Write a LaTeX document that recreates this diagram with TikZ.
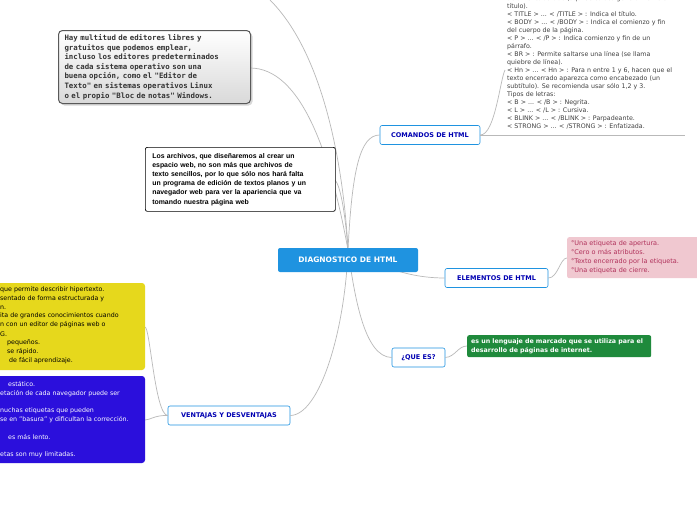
\documentclass[tikz,border=0pt]{standalone}
\usepackage{fontspec}
\usetikzlibrary{shadows}
\setmainfont{DejaVu Sans}
\newfontfamily\monof{DejaVu Sans Mono}
\newfontfamily\arialf{Liberation Sans}
\definecolor{ctrblue}{HTML}{1F93E0}
\definecolor{ylw}{HTML}{E6D81C}
\definecolor{blu}{HTML}{2B0FDC}
\definecolor{grn}{HTML}{1F8A3C}
\definecolor{pnk}{HTML}{F0C8D0}
\definecolor{pnktext}{HTML}{B0305A}
\begin{document}
\begin{tikzpicture}[x=1pt,y=-1pt,
 conn/.style={draw=gray!55,line width=0.7pt},
 tbox/.style={draw=ctrblue,fill=white,rounded corners=2pt,line width=0.6pt,text=blue!70!black,font=\fontsize{6.5}{8}\selectfont\bfseries,inner sep=0pt,minimum height=19pt},
 small/.style={font=\fontsize{6.3}{9}\selectfont,align=left,inner sep=0pt,anchor=west}]
\useasboundingbox (0,0) rectangle (697,520);
\clip (0,0) rectangle (697,520);
\fill[white] (0,0) rectangle (697,520);
% nodes
\node[tbox,minimum width=100pt] (cmd) at (430,135) {COMANDOS DE HTML};
\node[tbox,minimum width=103pt] (ele) at (496.5,278) {ELEMENTOS DE HTML};
\node[tbox,minimum width=53pt] (que) at (418.5,357.5) {¿QUE ES?};
\node[tbox,minimum width=122pt] (ven) at (229,415.5) {VENTAJAS Y DESVENTAJAS};
\coordinate (c) at (348,250);
\coordinate (topc) at (270,0);
% connectors
\draw[conn] (c) .. controls (345,190) and (330,60) .. (topc);
\draw[conn] (c) .. controls (330,150) and (300,68) .. (250,68);
\draw[conn] (c) .. controls (345,210) and (340,185) .. (335,180);
\draw[conn] (c) .. controls (352,170) and (360,135) .. (cmd.west);
\draw[conn] (c) .. controls (370,260) and (400,278) .. (ele.west);
\draw[conn] (c) .. controls (355,300) and (365,357) .. (que.west);
\draw[conn] (c) .. controls (345,330) and (320,415) .. (ven.east);
\draw[conn] (cmd.east) .. controls (495,135) and (500,80) .. (505,70);
\draw[conn] (cmd.east) -- (685,135);
\draw[conn] (ele.east) .. controls (558,278) and (560,258) .. (567,258);
\draw[conn] (que.east) .. controls (455,357) and (458,346) .. (467,346);
\draw[conn] (ven.west) .. controls (155,415) and (150,327) .. (145,327);
\draw[conn] (ven.west) .. controls (155,415) and (150,420) .. (145,420);
% center
\node[fill=ctrblue,rounded corners=2pt,minimum width=140pt,minimum height=24pt,text=white,font=\fontsize{7.5}{9}\selectfont\bfseries] (ctr) at (348,260) {DIAGNOSTICO DE HTML};
% gray box
\node[draw=gray!70!black,line width=1pt,rounded corners=4pt,top color=white,bottom color=gray!30,drop shadow={shadow xshift=2pt,shadow yshift=-2pt,fill=gray!60},text width=180pt,minimum height=73pt,inner xsep=6pt,inner ysep=3pt,anchor=north west,font=\monof\fontsize{7.4}{9.6}\selectfont\bfseries,align=left,text=black!80] (gray) at (58,30) {Hay multitud de editores libres y\\gratuitos que podemos emplear,\\incluso los editores predeterminados\\de cada sistema operativo son una\\buena opción, como el "Editor de\\Texto" en sistemas operativos Linux\\o el propio "Bloc de notas" Windows.};
% note
\node[draw=black,line width=0.7pt,fill=white,rounded corners=2pt,anchor=north west,text width=176pt,minimum height=64pt,inner xsep=7pt,inner ysep=5pt,font=\arialf\fontsize{6.9}{9.2}\selectfont\bfseries,align=left] (note) at (145,147) {Los archivos, que diseñaremos al crear un\\espacio web, no son más que archivos de\\texto sencillos, por lo que sólo nos hará falta\\un programa de edición de textos planos y un\\navegador web para ver la apariencia que va\\tomando nuestra página web};
% top right text
\node[small,anchor=north west,text=black!75,font=\fontsize{6.3}{8}\selectfont] (cmdt) at (507,-5) {de un encabezado (aquí se coloca generalmente el\\título).\\< TITLE > ... < /TITLE > : Indica el título.\\< BODY > ... < /BODY > : Indica el comienzo y fin\\del cuerpo de la página.\\< P > ... < /P > : Indica comienzo y fin de un\\párrafo.\\< BR > : Permite saltarse una línea (se llama\\quiebre de línea).\\< Hn > ... < Hn > : Para n entre 1 y 6, hacen que el\\texto encerrado aparezca como encabezado (un\\subtítulo). Se recomienda usar sólo 1,2 y 3.\\Tipos de letras:\\< B > ... < /B > : Negrita.\\< L > ... < /L > : Cursiva.\\< BLINK > ... < /BLINK > : Parpadeante.\\< STRONG > ... < /STRONG > : Enfatizada.};
% pink
\node[fill=pnk,rounded corners=2pt,anchor=north west,text width=132pt,minimum height=41pt,inner xsep=4pt,inner ysep=3pt,font=\fontsize{6.5}{9}\selectfont,align=left,text=pnktext] (pink) at (567,237) {°Una etiqueta de apertura.\\°Cero o más atributos.\\°Texto encerrado por la etiqueta.\\°Una etiqueta de cierre.};
% green
\node[fill=grn,rounded corners=2pt,anchor=north west,text width=176pt,minimum height=22pt,inner xsep=4pt,inner ysep=3pt,font=\fontsize{6.3}{8.6}\selectfont\bfseries,align=left,text=white] (grn) at (467,335) {es un lenguaje de marcado que se utiliza para el desarrollo de páginas de internet.};
% yellow
\fill[ylw, rounded corners=3pt] (-10,283) rectangle (145,370);
\node[small] (y1) at (0,290) {que permite describir hipertexto.};
\node[small] (y2) at (0,299) {sentado de forma estructurada y};
\node[small] (y3) at (0,308) {n.};
\node[small] (y4) at (0,316) {ita de grandes conocimientos cuando};
\node[small] (y5) at (0,325) {n con un editor de páginas web o};
\node[small] (y6) at (0,334) {G.};
\node[small] (y7) at (7,343) {pequeños.};
\node[small] (y8) at (7,352) {se rápido.};
\node[small] (y9) at (9,361) {de fácil aprendizaje.};
% blue
\fill[blu, rounded corners=3pt] (-10,376) rectangle (145,463);
\begin{scope}[every node/.style={small,text=white}]
\node (b1) at (8,384) {estático.};
\node (b2) at (0,394) {etación de cada navegador puede ser};
\node (b3) at (0,411) {nuchas etiquetas que pueden};
\node (b4) at (0,420) {se en "basura" y dificultan la corrección.};
\node (b5) at (8,437) {es más lento.};
\node (b6) at (0,455) {etas son muy limitadas.};
\end{scope}
\end{tikzpicture}
\end{document}
